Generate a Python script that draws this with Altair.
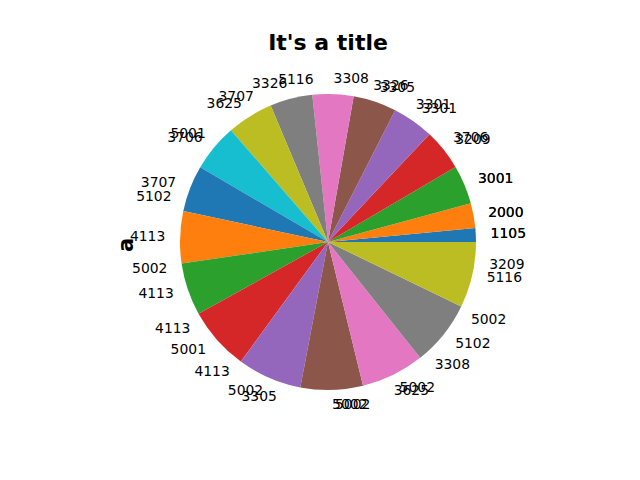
import math
import altair as alt
import pandas as pd

# Data (one series; labels as given, wedge sizes)
labels = ["1105", "2000", "3001", "3706", "3301", "3326", "5116", "3707", "5001", "5102",
          "5002", "4113", "4113", "3305", "5002", "3625", "3308", "5002", "3209"]
values = [5.4, 9.8, 15.3, 18.7, 16.3, 16.7, 25.8, 18.2, 24.9, 25.7,
          25.3, 20.5, 20.6, 17.0, 24.5, 18.2, 16.1, 24.8, 16.2]
title_text = "It's a title"
ylabel_text = ["a"]

tab10 = ["#1f77b4", "#ff7f0e", "#2ca02c", "#d62728", "#9467bd",
         "#8c564b", "#e377c2", "#7f7f7f", "#bcbd22", "#17becf"]

df = pd.DataFrame({"label": labels, "value": values, "idx": list(range(len(labels)))})

W = 380
H = 380
R = 148
LABEL_R = 1.1 * R
FONT = "DejaVu Sans"

theta_scale = alt.Scale(domain=[0, 1], range=[math.pi / 2, math.pi / 2 - 2 * math.pi])


def pie_base(sort_fields):
    return (
        alt.Chart(df)
        .transform_window(cum="sum(value)", pos="row_number()", sort=sort_fields, frame=[None, 0])
        .transform_joinaggregate(total="sum(value)")
        .transform_calculate(
            start="(datum.cum - datum.value) / datum.total",
            end="datum.cum / datum.total",
            mid="(datum.cum - datum.value / 2) / datum.total",
            cidx="(datum.pos - 1) % 10",
        )
    )


sorted_order = [alt.SortField("label", order="ascending"), alt.SortField("idx", order="ascending")]
original_order = [alt.SortField("idx", order="ascending")]

base_a = pie_base(sorted_order)
base_b = pie_base(original_order)

arcs = base_a.mark_arc(outerRadius=R).encode(
    theta=alt.Theta("start:Q", scale=theta_scale, stack=None),
    theta2="end:Q",
    color=alt.Color("cidx:N", scale=alt.Scale(domain=list(range(10)), range=tab10), legend=None),
    order=alt.Order("pos:Q"),
)


def label_layers(base):
    right = base.transform_filter("cos(2 * PI * datum.mid) > 0").mark_text(
        radius=LABEL_R, align="left", baseline="middle", fontSize=13.9, font=FONT, color="black"
    ).encode(
        theta=alt.Theta("mid:Q", scale=theta_scale, stack=None),
        text="label:N",
    )
    left = base.transform_filter("cos(2 * PI * datum.mid) <= 0").mark_text(
        radius=LABEL_R, align="right", baseline="middle", fontSize=13.9, font=FONT, color="black"
    ).encode(
        theta=alt.Theta("mid:Q", scale=theta_scale, stack=None),
        text="label:N",
    )
    return [right, left]


ylab = alt.Chart(pd.DataFrame({"t": ylabel_text})).mark_text(
    angle=270, align="center", baseline="alphabetic", fontSize=21, fontWeight="bold",
    font=FONT, color="black"
).encode(
    x=alt.value(-4.7),
    y=alt.value(193),
    text="t:N",
)

chart = alt.layer(
    arcs, *label_layers(base_b), *label_layers(base_a), ylab
).properties(
    width=W,
    height=H,
    title=alt.TitleParams(
        title_text, fontSize=22, fontWeight="bold", font=FONT, anchor="middle",
        frame="group", offset=-3, color="black"
    ),
    padding={"left": 130, "top": 44, "right": 114, "bottom": 40},
    autosize=alt.AutoSizeParams(type="none"),
).configure_view(stroke=None)

chart.save("out.html", embed_options={"renderer": "svg", "actions": False})
